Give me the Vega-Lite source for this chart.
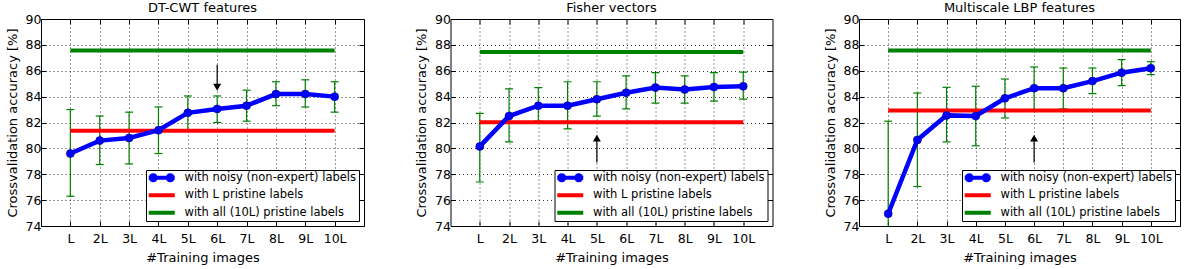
{
  "$schema": "https://vega.github.io/schema/vega-lite/v6.json",
  "padding": {"left": 5, "top": 1, "right": 0, "bottom": 0},
  "background": "white",
  "spacing": 49.5,
  "datasets": {
    "pts": [
      {"panel": "DT-CWT", "series": "with noisy (non-expert) labels", "x": 1, "acc": 79.6, "lo": 76.3, "hi": 83.0},
      {"panel": "DT-CWT", "series": "with noisy (non-expert) labels", "x": 2, "acc": 80.6, "lo": 78.75, "hi": 82.5},
      {"panel": "DT-CWT", "series": "with noisy (non-expert) labels", "x": 3, "acc": 80.8, "lo": 78.8, "hi": 82.8},
      {"panel": "DT-CWT", "series": "with noisy (non-expert) labels", "x": 4, "acc": 81.4, "lo": 79.6, "hi": 83.2},
      {"panel": "DT-CWT", "series": "with noisy (non-expert) labels", "x": 5, "acc": 82.75, "lo": 81.4, "hi": 84.05},
      {"panel": "DT-CWT", "series": "with noisy (non-expert) labels", "x": 6, "acc": 83.05, "lo": 82.0, "hi": 84.05},
      {"panel": "DT-CWT", "series": "with noisy (non-expert) labels", "x": 7, "acc": 83.3, "lo": 82.1, "hi": 84.5},
      {"panel": "DT-CWT", "series": "with noisy (non-expert) labels", "x": 8, "acc": 84.2, "lo": 83.3, "hi": 85.15},
      {"panel": "DT-CWT", "series": "with noisy (non-expert) labels", "x": 9, "acc": 84.2, "lo": 83.2, "hi": 85.3},
      {"panel": "DT-CWT", "series": "with noisy (non-expert) labels", "x": 10, "acc": 84.0, "lo": 82.8, "hi": 85.15},
      {"panel": "Fisher", "series": "with noisy (non-expert) labels", "x": 1, "acc": 80.15, "lo": 77.4, "hi": 82.7},
      {"panel": "Fisher", "series": "with noisy (non-expert) labels", "x": 2, "acc": 82.5, "lo": 80.5, "hi": 84.6},
      {"panel": "Fisher", "series": "with noisy (non-expert) labels", "x": 3, "acc": 83.3, "lo": 82.1, "hi": 84.7},
      {"panel": "Fisher", "series": "with noisy (non-expert) labels", "x": 4, "acc": 83.3, "lo": 81.5, "hi": 85.15},
      {"panel": "Fisher", "series": "with noisy (non-expert) labels", "x": 5, "acc": 83.8, "lo": 82.5, "hi": 85.15},
      {"panel": "Fisher", "series": "with noisy (non-expert) labels", "x": 6, "acc": 84.3, "lo": 83.05, "hi": 85.6},
      {"panel": "Fisher", "series": "with noisy (non-expert) labels", "x": 7, "acc": 84.7, "lo": 83.5, "hi": 85.85},
      {"panel": "Fisher", "series": "with noisy (non-expert) labels", "x": 8, "acc": 84.55, "lo": 83.5, "hi": 85.6},
      {"panel": "Fisher", "series": "with noisy (non-expert) labels", "x": 9, "acc": 84.75, "lo": 83.65, "hi": 85.85},
      {"panel": "Fisher", "series": "with noisy (non-expert) labels", "x": 10, "acc": 84.8, "lo": 83.8, "hi": 85.9},
      {"panel": "LBP", "series": "with noisy (non-expert) labels", "x": 1, "acc": 74.95, "lo": 67.8, "hi": 82.1},
      {"panel": "LBP", "series": "with noisy (non-expert) labels", "x": 2, "acc": 80.65, "lo": 77.05, "hi": 84.28},
      {"panel": "LBP", "series": "with noisy (non-expert) labels", "x": 3, "acc": 82.55, "lo": 80.5, "hi": 84.72},
      {"panel": "LBP", "series": "with noisy (non-expert) labels", "x": 4, "acc": 82.5, "lo": 80.2, "hi": 84.8},
      {"panel": "LBP", "series": "with noisy (non-expert) labels", "x": 5, "acc": 83.87, "lo": 82.35, "hi": 85.36},
      {"panel": "LBP", "series": "with noisy (non-expert) labels", "x": 6, "acc": 84.65, "lo": 83.0, "hi": 86.29},
      {"panel": "LBP", "series": "with noisy (non-expert) labels", "x": 7, "acc": 84.65, "lo": 83.05, "hi": 86.21},
      {"panel": "LBP", "series": "with noisy (non-expert) labels", "x": 8, "acc": 85.2, "lo": 84.23, "hi": 86.21},
      {"panel": "LBP", "series": "with noisy (non-expert) labels", "x": 9, "acc": 85.85, "lo": 84.85, "hi": 86.86},
      {"panel": "LBP", "series": "with noisy (non-expert) labels", "x": 10, "acc": 86.2, "lo": 85.7, "hi": 86.7}
    ],
    "hl": [
      {"panel": "DT-CWT", "series": "L", "x1": 1, "x2": 10, "y": 81.37},
      {"panel": "DT-CWT", "series": "all", "x1": 1, "x2": 10, "y": 87.57},
      {"panel": "Fisher", "series": "L", "x1": 1, "x2": 10, "y": 82.02},
      {"panel": "Fisher", "series": "all", "x1": 1, "x2": 10, "y": 87.45},
      {"panel": "LBP", "series": "L", "x1": 1, "x2": 10, "y": 82.92},
      {"panel": "LBP", "series": "all", "x1": 1, "x2": 10, "y": 87.57}
    ],
    "arrows": [
      {"panel": "DT-CWT", "x": 6, "tail": 86.47, "shaft_end": 84.85, "head": 84.73},
      {"panel": "Fisher", "x": 5, "tail": 78.9, "shaft_end": 80.7, "head": 80.79},
      {"panel": "LBP", "x": 6, "tail": 78.9, "shaft_end": 80.7, "head": 80.79}
    ]
  },
  "resolve": {
    "scale": {"color": "independent", "shape": "independent", "x": "independent", "y": "independent"},
    "legend": {"color": "independent", "shape": "independent"}
  },
  "hconcat": [
    {
      "width": 323, "height": 207,
      "title": {"text": "DT-CWT features"},
      "resolve": {"axis": {"x": "independent", "y": "independent"}},
      "layer": [
        {"data": {"name": "pts"}, "transform": [{"filter": "datum.panel == 'DT-CWT'"}],
         "mark": {"type": "rule", "color": "#008000", "strokeWidth": 1.2, "clip": true},
         "encoding": {
           "x": {"field": "x", "type": "quantitative", "scale": {"domain": [0, 11], "nice": false, "zero": false}, "axis": {"values": [1,2,3,4,5,6,7,8,9,10], "tickCount": 10, "labelOverlap": false, "labelExpr": "datum.value == 1 ? 'L' : datum.value + 'L'", "title": "#Training images"}},
           "y": {"field": "lo", "type": "quantitative", "scale": {"domain": [74, 90], "nice": false, "zero": false}, "axis": {"values": [74,76,78,80,82,84,86,88,90], "tickCount": 9, "labelOverlap": false, "title": "Crossvalidation accuracy [%]"}},
           "y2": {"field": "hi"}
         }},
        {"data": {"name": "pts"}, "transform": [{"filter": "datum.panel == 'DT-CWT'"}],
         "mark": {"type": "tick", "orient": "horizontal", "size": 8, "thickness": 1.2, "color": "#008000", "opacity": 1, "clip": true},
         "encoding": {
           "x": {"field": "x", "type": "quantitative", "axis": {"orient": "top", "values": [1,2,3,4,5,6,7,8,9,10], "tickCount": 10, "labels": false, "grid": false, "title": null}},
           "y": {"field": "lo", "type": "quantitative", "axis": {"orient": "right", "values": [74,76,78,80,82,84,86,88,90], "tickCount": 9, "labels": false, "grid": false, "title": null}}}},
        {"data": {"name": "pts"}, "transform": [{"filter": "datum.panel == 'DT-CWT'"}],
         "mark": {"type": "tick", "orient": "horizontal", "size": 8, "thickness": 1.2, "color": "#008000", "opacity": 1, "clip": true},
         "encoding": {"x": {"field": "x", "type": "quantitative", "axis": null}, "y": {"field": "hi", "type": "quantitative", "axis": null}}},
        {"data": {"name": "hl"}, "transform": [{"filter": "datum.panel == 'DT-CWT' && datum.series == 'L'"}],
         "mark": {"type": "rule", "color": "#ff0000", "strokeWidth": 4},
         "encoding": {"x": {"field": "x1", "type": "quantitative", "axis": null}, "x2": {"field": "x2"}, "y": {"field": "y", "type": "quantitative", "axis": null}}},
        {"data": {"name": "hl"}, "transform": [{"filter": "datum.panel == 'DT-CWT' && datum.series == 'all'"}],
         "mark": {"type": "rule", "color": "#008000", "strokeWidth": 4},
         "encoding": {"x": {"field": "x1", "type": "quantitative", "axis": null}, "x2": {"field": "x2"}, "y": {"field": "y", "type": "quantitative", "axis": null}}},
        {"data": {"name": "pts"}, "transform": [{"filter": "datum.panel == 'DT-CWT'"}],
         "mark": {"type": "line", "color": "#0000ff", "strokeWidth": 4.5, "clip": true},
         "encoding": {"x": {"field": "x", "type": "quantitative", "axis": null}, "y": {"field": "acc", "type": "quantitative", "axis": null}}},
        {"data": {"name": "pts"}, "transform": [{"filter": "datum.panel == 'DT-CWT'"}],
         "mark": {"type": "point", "filled": true, "color": "#0000ff", "stroke": "#00007a", "strokeWidth": 0.6, "size": 64, "opacity": 1, "clip": true},
         "encoding": {"x": {"field": "x", "type": "quantitative", "axis": null}, "y": {"field": "acc", "type": "quantitative", "axis": null}}},
        {"data": {"name": "arrows"}, "transform": [{"filter": "datum.panel == 'DT-CWT'"}],
         "mark": {"type": "rule", "color": "black", "strokeWidth": 1.2},
         "encoding": {"x": {"field": "x", "type": "quantitative", "axis": null}, "y": {"field": "tail", "type": "quantitative", "axis": null}, "y2": {"field": "shaft_end"}}},
        {"data": {"name": "arrows"}, "transform": [{"filter": "datum.panel == 'DT-CWT'"}],
         "mark": {"type": "point", "shape": "triangle-down", "filled": true, "color": "black", "size": 64, "opacity": 1},
         "encoding": {"x": {"field": "x", "type": "quantitative", "axis": null}, "y": {"field": "head", "type": "quantitative", "axis": null}}},
        {"data": {"name": "pts"}, "transform": [{"filter": "datum.panel == 'DT-CWT'"}],
         "mark": {"type": "point", "filled": true, "opacity": 0},
         "encoding": {
           "x": {"field": "x", "type": "quantitative", "axis": null}, "y": {"field": "acc", "type": "quantitative", "axis": null},
           "color": {"field": "series", "type": "nominal", "scale": {"domain": ["with noisy (non-expert) labels", "with L pristine labels", "with all (10L) pristine labels"], "range": ["#0000ff", "#ff0000", "#008000"]}, "legend": {"title": null}},
           "shape": {"field": "series", "type": "nominal", "scale": {"domain": ["with noisy (non-expert) labels", "with L pristine labels", "with all (10L) pristine labels"], "range": ["M-1,-0.4H4.2V0.4H-1Z M-1,0a0.9,0.9 0 1,1 1.8,0a0.9,0.9 0 1,1 -1.8,0Z M2.4,0a0.9,0.9 0 1,1 1.8,0a0.9,0.9 0 1,1 -1.8,0Z", "M-1,-0.4H4.2V0.4H-1Z", "M-1,-0.4H4.2V0.4H-1Z"]}, "legend": {"title": null}}
         }}
      ]
    },
    {
      "width": 322, "height": 207,
      "title": {"text": "Fisher vectors"},
      "resolve": {"axis": {"x": "independent", "y": "independent"}},
      "layer": [
        {"data": {"name": "pts"}, "transform": [{"filter": "datum.panel == 'Fisher'"}],
         "mark": {"type": "rule", "color": "#008000", "strokeWidth": 1.2, "clip": true},
         "encoding": {
           "x": {"field": "x", "type": "quantitative", "scale": {"domain": [0, 11], "nice": false, "zero": false}, "axis": {"values": [1,2,3,4,5,6,7,8,9,10], "tickCount": 10, "labelOverlap": false, "labelExpr": "datum.value == 1 ? 'L' : datum.value + 'L'", "title": "#Training images"}},
           "y": {"field": "lo", "type": "quantitative", "scale": {"domain": [74, 90], "nice": false, "zero": false}, "axis": {"values": [74,76,78,80,82,84,86,88,90], "tickCount": 9, "labelOverlap": false, "title": "Crossvalidation accuracy [%]"}},
           "y2": {"field": "hi"}
         }},
        {"data": {"name": "pts"}, "transform": [{"filter": "datum.panel == 'Fisher'"}],
         "mark": {"type": "tick", "orient": "horizontal", "size": 8, "thickness": 1.2, "color": "#008000", "opacity": 1, "clip": true},
         "encoding": {
           "x": {"field": "x", "type": "quantitative", "axis": {"orient": "top", "values": [1,2,3,4,5,6,7,8,9,10], "tickCount": 10, "labels": false, "grid": false, "title": null}},
           "y": {"field": "lo", "type": "quantitative", "axis": {"orient": "right", "values": [74,76,78,80,82,84,86,88,90], "tickCount": 9, "labels": false, "grid": false, "title": null}}}},
        {"data": {"name": "pts"}, "transform": [{"filter": "datum.panel == 'Fisher'"}],
         "mark": {"type": "tick", "orient": "horizontal", "size": 8, "thickness": 1.2, "color": "#008000", "opacity": 1, "clip": true},
         "encoding": {"x": {"field": "x", "type": "quantitative", "axis": null}, "y": {"field": "hi", "type": "quantitative", "axis": null}}},
        {"data": {"name": "hl"}, "transform": [{"filter": "datum.panel == 'Fisher' && datum.series == 'L'"}],
         "mark": {"type": "rule", "color": "#ff0000", "strokeWidth": 4},
         "encoding": {"x": {"field": "x1", "type": "quantitative", "axis": null}, "x2": {"field": "x2"}, "y": {"field": "y", "type": "quantitative", "axis": null}}},
        {"data": {"name": "hl"}, "transform": [{"filter": "datum.panel == 'Fisher' && datum.series == 'all'"}],
         "mark": {"type": "rule", "color": "#008000", "strokeWidth": 4},
         "encoding": {"x": {"field": "x1", "type": "quantitative", "axis": null}, "x2": {"field": "x2"}, "y": {"field": "y", "type": "quantitative", "axis": null}}},
        {"data": {"name": "pts"}, "transform": [{"filter": "datum.panel == 'Fisher'"}],
         "mark": {"type": "line", "color": "#0000ff", "strokeWidth": 4.5, "clip": true},
         "encoding": {"x": {"field": "x", "type": "quantitative", "axis": null}, "y": {"field": "acc", "type": "quantitative", "axis": null}}},
        {"data": {"name": "pts"}, "transform": [{"filter": "datum.panel == 'Fisher'"}],
         "mark": {"type": "point", "filled": true, "color": "#0000ff", "stroke": "#00007a", "strokeWidth": 0.6, "size": 64, "opacity": 1, "clip": true},
         "encoding": {"x": {"field": "x", "type": "quantitative", "axis": null}, "y": {"field": "acc", "type": "quantitative", "axis": null}}},
        {"data": {"name": "arrows"}, "transform": [{"filter": "datum.panel == 'Fisher'"}],
         "mark": {"type": "rule", "color": "black", "strokeWidth": 1.2},
         "encoding": {"x": {"field": "x", "type": "quantitative", "axis": null}, "y": {"field": "tail", "type": "quantitative", "axis": null}, "y2": {"field": "shaft_end"}}},
        {"data": {"name": "arrows"}, "transform": [{"filter": "datum.panel == 'Fisher'"}],
         "mark": {"type": "point", "shape": "triangle-up", "filled": true, "color": "black", "size": 64, "opacity": 1},
         "encoding": {"x": {"field": "x", "type": "quantitative", "axis": null}, "y": {"field": "head", "type": "quantitative", "axis": null}}},
        {"data": {"name": "pts"}, "transform": [{"filter": "datum.panel == 'Fisher'"}],
         "mark": {"type": "point", "filled": true, "opacity": 0},
         "encoding": {
           "x": {"field": "x", "type": "quantitative", "axis": null}, "y": {"field": "acc", "type": "quantitative", "axis": null},
           "color": {"field": "series", "type": "nominal", "scale": {"domain": ["with noisy (non-expert) labels", "with L pristine labels", "with all (10L) pristine labels"], "range": ["#0000ff", "#ff0000", "#008000"]}, "legend": {"title": null}},
           "shape": {"field": "series", "type": "nominal", "scale": {"domain": ["with noisy (non-expert) labels", "with L pristine labels", "with all (10L) pristine labels"], "range": ["M-1,-0.4H4.2V0.4H-1Z M-1,0a0.9,0.9 0 1,1 1.8,0a0.9,0.9 0 1,1 -1.8,0Z M2.4,0a0.9,0.9 0 1,1 1.8,0a0.9,0.9 0 1,1 -1.8,0Z", "M-1,-0.4H4.2V0.4H-1Z", "M-1,-0.4H4.2V0.4H-1Z"]}, "legend": {"title": null}}
         }}
      ]
    },
    {
      "width": 321, "height": 207,
      "title": {"text": "Multiscale LBP features"},
      "resolve": {"axis": {"x": "independent", "y": "independent"}},
      "layer": [
        {"data": {"name": "pts"}, "transform": [{"filter": "datum.panel == 'LBP'"}],
         "mark": {"type": "rule", "color": "#008000", "strokeWidth": 1.2, "clip": true},
         "encoding": {
           "x": {"field": "x", "type": "quantitative", "scale": {"domain": [0, 11], "nice": false, "zero": false}, "axis": {"values": [1,2,3,4,5,6,7,8,9,10], "tickCount": 10, "labelOverlap": false, "labelExpr": "datum.value == 1 ? 'L' : datum.value + 'L'", "title": "#Training images"}},
           "y": {"field": "lo", "type": "quantitative", "scale": {"domain": [74, 90], "nice": false, "zero": false}, "axis": {"values": [74,76,78,80,82,84,86,88,90], "tickCount": 9, "labelOverlap": false, "title": "Crossvalidation accuracy [%]"}},
           "y2": {"field": "hi"}
         }},
        {"data": {"name": "pts"}, "transform": [{"filter": "datum.panel == 'LBP'"}],
         "mark": {"type": "tick", "orient": "horizontal", "size": 8, "thickness": 1.2, "color": "#008000", "opacity": 1, "clip": true},
         "encoding": {
           "x": {"field": "x", "type": "quantitative", "axis": {"orient": "top", "values": [1,2,3,4,5,6,7,8,9,10], "tickCount": 10, "labels": false, "grid": false, "title": null}},
           "y": {"field": "lo", "type": "quantitative", "axis": {"orient": "right", "values": [74,76,78,80,82,84,86,88,90], "tickCount": 9, "labels": false, "grid": false, "title": null}}}},
        {"data": {"name": "pts"}, "transform": [{"filter": "datum.panel == 'LBP'"}],
         "mark": {"type": "tick", "orient": "horizontal", "size": 8, "thickness": 1.2, "color": "#008000", "opacity": 1, "clip": true},
         "encoding": {"x": {"field": "x", "type": "quantitative", "axis": null}, "y": {"field": "hi", "type": "quantitative", "axis": null}}},
        {"data": {"name": "hl"}, "transform": [{"filter": "datum.panel == 'LBP' && datum.series == 'L'"}],
         "mark": {"type": "rule", "color": "#ff0000", "strokeWidth": 4},
         "encoding": {"x": {"field": "x1", "type": "quantitative", "axis": null}, "x2": {"field": "x2"}, "y": {"field": "y", "type": "quantitative", "axis": null}}},
        {"data": {"name": "hl"}, "transform": [{"filter": "datum.panel == 'LBP' && datum.series == 'all'"}],
         "mark": {"type": "rule", "color": "#008000", "strokeWidth": 4},
         "encoding": {"x": {"field": "x1", "type": "quantitative", "axis": null}, "x2": {"field": "x2"}, "y": {"field": "y", "type": "quantitative", "axis": null}}},
        {"data": {"name": "pts"}, "transform": [{"filter": "datum.panel == 'LBP'"}],
         "mark": {"type": "line", "color": "#0000ff", "strokeWidth": 4.5, "clip": true},
         "encoding": {"x": {"field": "x", "type": "quantitative", "axis": null}, "y": {"field": "acc", "type": "quantitative", "axis": null}}},
        {"data": {"name": "pts"}, "transform": [{"filter": "datum.panel == 'LBP'"}],
         "mark": {"type": "point", "filled": true, "color": "#0000ff", "stroke": "#00007a", "strokeWidth": 0.6, "size": 64, "opacity": 1, "clip": true},
         "encoding": {"x": {"field": "x", "type": "quantitative", "axis": null}, "y": {"field": "acc", "type": "quantitative", "axis": null}}},
        {"data": {"name": "arrows"}, "transform": [{"filter": "datum.panel == 'LBP'"}],
         "mark": {"type": "rule", "color": "black", "strokeWidth": 1.2},
         "encoding": {"x": {"field": "x", "type": "quantitative", "axis": null}, "y": {"field": "tail", "type": "quantitative", "axis": null}, "y2": {"field": "shaft_end"}}},
        {"data": {"name": "arrows"}, "transform": [{"filter": "datum.panel == 'LBP'"}],
         "mark": {"type": "point", "shape": "triangle-up", "filled": true, "color": "black", "size": 64, "opacity": 1},
         "encoding": {"x": {"field": "x", "type": "quantitative", "axis": null}, "y": {"field": "head", "type": "quantitative", "axis": null}}},
        {"data": {"name": "pts"}, "transform": [{"filter": "datum.panel == 'LBP'"}],
         "mark": {"type": "point", "filled": true, "opacity": 0},
         "encoding": {
           "x": {"field": "x", "type": "quantitative", "axis": null}, "y": {"field": "acc", "type": "quantitative", "axis": null},
           "color": {"field": "series", "type": "nominal", "scale": {"domain": ["with noisy (non-expert) labels", "with L pristine labels", "with all (10L) pristine labels"], "range": ["#0000ff", "#ff0000", "#008000"]}, "legend": {"title": null}},
           "shape": {"field": "series", "type": "nominal", "scale": {"domain": ["with noisy (non-expert) labels", "with L pristine labels", "with all (10L) pristine labels"], "range": ["M-1,-0.4H4.2V0.4H-1Z M-1,0a0.9,0.9 0 1,1 1.8,0a0.9,0.9 0 1,1 -1.8,0Z M2.4,0a0.9,0.9 0 1,1 1.8,0a0.9,0.9 0 1,1 -1.8,0Z", "M-1,-0.4H4.2V0.4H-1Z", "M-1,-0.4H4.2V0.4H-1Z"]}, "legend": {"title": null}}
         }}
      ]
    }
  ],
  "config": {
    "font": "DejaVu Sans",
    "view": {"stroke": "black", "strokeWidth": 1},
    "title": {"fontSize": 13, "fontWeight": "normal", "color": "black", "offset": -2, "font": "DejaVu Sans"},
    "axis": {
      "domain": false,
      "grid": true, "gridColor": "black", "gridDash": [1, 3], "gridWidth": 0.8, "gridOpacity": 1,
      "ticks": true, "tickColor": "black", "tickSize": -5, "tickWidth": 1,
      "labelFontSize": 12.5, "labelColor": "black", "labelFont": "DejaVu Sans", "labelPadding": 5,
      "labelOverlap": false, "labelBound": false, "labelFlush": false,
      "titleFontSize": 13, "titleFontWeight": "normal", "titleColor": "black", "titleFont": "DejaVu Sans"
    },
    "axisY": {"titlePadding": 6},
    "axisX": {"titlePadding": 7, "labelPadding": 11},
    "legend": {
      "orient": "bottom-right", "offset": 5, "fillColor": "white", "strokeColor": "black", "strokeWidth": 1,
      "padding": 2, "cornerRadius": 0, "labelFontSize": 11.5, "labelFont": "DejaVu Sans", "labelColor": "black",
      "symbolSize": 100, "symbolOpacity": 1, "symbolStrokeWidth": 0, "labelOffset": 25, "rowPadding": 4.5,
      "labelLimit": 400
    }
  }
}
